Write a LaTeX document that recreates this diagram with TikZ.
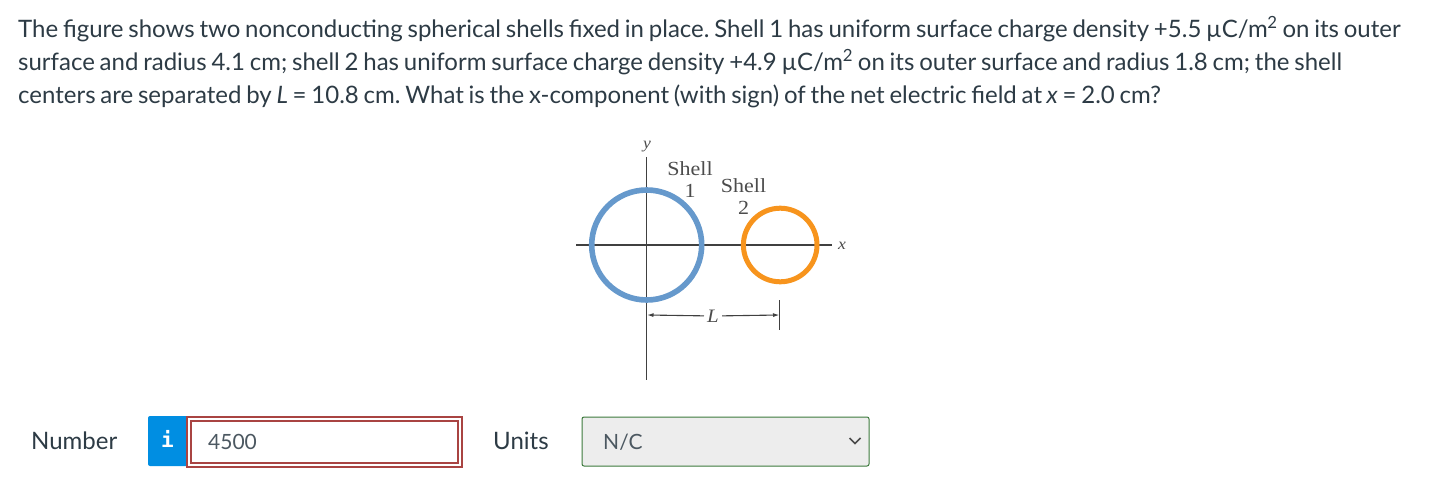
\documentclass[tikz,border=0pt]{standalone}
\usepackage{fontspec}
\setmainfont{Lato}[WordSpace=0.78]
\newfontfamily\figfont{Liberation Serif}[FakeStretch=1.1]
\newfontfamily\iconfont{DejaVu Sans Mono}
\usetikzlibrary{arrows.meta}
\definecolor{txt}{HTML}{2D3B45}
\definecolor{shellblue}{HTML}{6699CC}
\definecolor{shellorange}{HTML}{F7941D}
\definecolor{info}{HTML}{008EE2}
\definecolor{wrong}{HTML}{A94442}
\definecolor{okgreen}{HTML}{3D7A3D}
\tikzset{
  qline/.style={anchor=base west,inner sep=0pt,text=txt,font=\fontsize{24}{24}\selectfont},
  formtext/.style={anchor=base west,inner sep=0pt,text=txt,font=\fontsize{24}{24}\selectfont},
  valtext/.style={anchor=base west,inner sep=0pt,text=txt!85!white,font=\fontsize{21}{21}\selectfont},
  figlabel/.style={inner sep=0pt,text=black!70,font=\figfont\fontsize{20}{20}\selectfont},
  figital/.style={inner sep=0pt,text=black!70,font=\figfont\itshape\fontsize{19}{19}\selectfont},
  axlabel/.style={inner sep=0pt,text=black!70,font=\figfont\itshape\fontsize{16}{16}\selectfont},
  axisline/.style={line width=1.3pt,draw=black!75},
  dimarrow/.style={line width=1.1pt,draw=black!75,-{Latex[length=6.5pt,width=4pt]}},
}
\begin{document}
\begin{tikzpicture}[x=1pt,y=-1pt]
\useasboundingbox[fill=white] (0,0) rectangle (1435,481);
\frenchspacing
\node[qline] (l1) at (18,37.7) {The figure shows two nonconducting spherical shells fixed in place. Shell 1 has uniform surface charge density +5.5 µC/m\textsuperscript{2} on its outer};
\node[qline] (l2) at (18,70.7) {surface and radius 4.1 cm; shell 2 has uniform surface charge density +4.9 µC/m\textsuperscript{2} on its outer surface and radius 1.8 cm; the shell};
\node[qline] (l3) at (18,103.7) {centers are separated by \textit{L} = 10.8 cm. What is the x-component (with sign) of the net electric field at \textit{x} = 2.0 cm?};
% figure
\coordinate (c1) at (646.7,245);
\coordinate (c2) at (780.2,245);
\coordinate (xa) at (576,245);
\coordinate (xb) at (832,245);
\coordinate (ya) at (646.3,157);
\coordinate (yb) at (646.3,380);
\coordinate (tka) at (779.5,300);
\coordinate (tkb) at (779.5,330);
\coordinate (da) at (647,315);
\coordinate (db) at (779.5,315);
\draw[axisline] (xa) -- (xb);
\draw[axisline] (ya) -- (yb);
\draw[line width=5.6pt,draw=shellblue] (c1) circle[radius=55];
\draw[line width=5pt,draw=shellorange] (c2) circle[radius=36.8];
\draw[axisline] (tka) -- (tkb);
\node[axlabel] (ylab) at (647,147) {y};
\node[axlabel] (xlab) at (842,246) {x};
\node[figlabel] (s1) at (690,168.5) {Shell};
\node[figlabel] (n1) at (690,191) {1};
\node[figlabel] (s2) at (743.5,185.5) {Shell};
\node[figlabel] (n2) at (743.5,208) {2};
\node[figital,fill=white,inner xsep=3pt,inner ysep=1pt] (lab) at (713,316) {L};
\draw[dimarrow] (lab) -- (da);
\draw[dimarrow] (lab) -- (db);
% form
\node[formtext] (num) at (31,449.5) {Number};
\path[fill=info,rounded corners=2pt] (148,416) rectangle (190,466);
\node[inner sep=0pt,text=white,font=\iconfont\bfseries\fontsize{21}{21}\selectfont] (inf) at (167.5,439) {i};
\node[draw=wrong,line width=2pt,fill=white,minimum width=275pt,minimum height=50pt,inner sep=0pt,anchor=north west] (outer) at (186,416) {};
\node[draw=wrong,line width=2pt,minimum width=267.5pt,minimum height=42.5pt,inner sep=0pt] (inner) at (outer.center) {};
\node[valtext] (val) at (208,449) {4500};
\node[formtext] (uni) at (493,449.5) {Units};
\node[draw=okgreen,line width=1pt,fill=black!7,rounded corners=2pt,minimum width=287pt,minimum height=49pt,inner sep=0pt,anchor=north west] (sel) at (581.5,416.5) {};
\node[valtext] (nc) at (603,449) {N/C};
\coordinate (cha) at (849.5,438);
\coordinate (chb) at (855,443.5);
\coordinate (chc) at (860.5,438);
\draw[line width=1.5pt,draw=black!70] (cha) -- (chb) -- (chc);
\end{tikzpicture}
\end{document}
